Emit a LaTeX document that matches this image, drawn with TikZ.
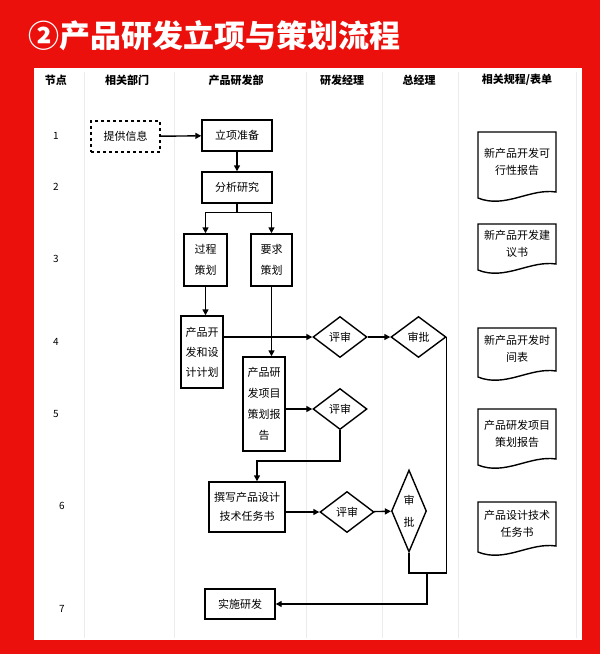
\documentclass[tikz,border=0pt]{standalone}
\usepackage{fontspec}
\setmainfont{Noto Sans CJK SC}
\usetikzlibrary{shapes.geometric,arrows.meta}
\definecolor{bgred}{RGB}{236,16,12}
\begin{document}
\begin{tikzpicture}[x=1pt,y=-1pt,
  box/.style={draw,line width=1.4pt,align=center,font=\fontsize{11}{16}\selectfont,inner sep=0pt},
  dia/.style={diamond,draw,line width=1.4pt,align=center,font=\fontsize{11}{13}\selectfont,inner sep=0pt,aspect=1.35},
  arr/.style={line width=1.4pt,-{Triangle[length=6pt,width=6pt]}},
  ln/.style={line width=1.4pt},
  hdr/.style={font=\bfseries\fontsize{11}{12}\selectfont},
  num/.style={font=\fontsize{10}{11}\selectfont},
  doc/.style={font=\fontsize{11}{17}\selectfont,align=center}]
\useasboundingbox (0,0) rectangle (600,654);
\fill[bgred] (0,0) rectangle (600,654);
\fill[white] (34,68) rectangle (582,640);
\node[anchor=west,text=white,font=\bfseries\fontsize{31}{34}\selectfont,inner sep=0pt] (title) at (28,36) {②产品研发立项与策划流程};
\foreach \x in {84,174,306,382,458,576} \draw[gray!15,line width=0.8pt] (\x,72) -- (\x,638);
\node[hdr] (h1) at (56,80) {节点};
\node[hdr] (h2) at (127,80) {相关部门};
\node[hdr] (h3) at (236,80) {产品研发部};
\node[hdr] (h4) at (342,80) {研发经理};
\node[hdr] (h5) at (419,80) {总经理};
\node[hdr] (h6) at (517,80) {相关规程/表单};
\node[num] (n1) at (56,136) {1};
\node[num] (n2) at (56,187) {2};
\node[num] (n3) at (56,259) {3};
\node[num] (n4) at (56,342) {4};
\node[num] (n5) at (56,414) {5};
\node[num] (n6) at (62,506) {6};
\node[num] (n7) at (62,609) {7};
% nodes
\node[box,dashed,minimum width=69pt,minimum height=31pt] (info) at (125.5,136.5) {提供信息};
\node[box,minimum width=70pt,minimum height=31pt] (prep) at (237,135.5) {立项准备};
\node[box,minimum width=70pt,minimum height=31pt] (anal) at (237,187.5) {分析研究};
\node[box,minimum width=43pt,minimum height=52pt,font=\fontsize{11}{21}\selectfont] (proc) at (205.5,260) {过程\\策划};
\node[box,minimum width=41pt,minimum height=52pt,font=\fontsize{11}{21}\selectfont] (req) at (271.5,260) {要求\\策划};
\node[box,minimum width=42pt,minimum height=72pt,font=\fontsize{11}{20}\selectfont] (plan) at (202,352) {产品开\\发和设\\计计划};
\node[box,minimum width=42pt,minimum height=94pt,font=\fontsize{11}{21}\selectfont] (rep) at (264,404) {产品研\\发项目\\策划报\\告};
\node[box,minimum width=76pt,minimum height=50pt,font=\fontsize{11}{19}\selectfont] (task) at (247,507) {撰写产品设计\\技术任务书};
\node[box,minimum width=70pt,minimum height=30pt] (impl) at (240,604) {实施研发};
\node[dia,minimum width=54pt,minimum height=41pt] (rv1) at (340,337) {评审};
\node[dia,minimum width=55pt,minimum height=41pt] (ap1) at (418.5,337) {审批};
\node[dia,minimum width=54pt,minimum height=41pt] (rv2) at (340,409) {评审};
\node[dia,minimum width=54pt,minimum height=41pt] (rv3) at (347,512) {评审};
\node[diamond,draw,line width=1.4pt,minimum width=35pt,minimum height=82pt,inner sep=0pt,aspect=0.43,align=center,font=\fontsize{11}{22}\selectfont] (ap2) at (409,511) {审\\批};
% connectors
\draw[arr] (info) -- (prep);
\draw[arr] (prep) -- (anal);
\draw[ln] (anal.south) -- ++(0,9) coordinate (split);
\draw[arr] (split) -| (proc.north);
\draw[arr] (split) -| (req.north);
\draw[arr] (proc) -- (plan.north -| proc);
\draw[arr] (req.south) -- (rep.north -| req.south);
\draw[arr] (plan.east |- rv1) -- (rv1.west);
\draw[arr] (rv1) -- (ap1);
\draw[arr] (rep.east |- rv2) -- (rv2.west);
\draw[arr] (rv2.south) |- (257,461) -- (task.north -| 257,0);
\draw[arr] (task.east |- rv3) -- (rv3.west);
\draw[arr] (rv3) -- (ap2);
\coordinate (m1) at (ap1.east |- 0,573);
\coordinate (m2) at (ap2.south |- 0,573);
\draw[ln] (ap1.east) -- (m1) -- (m2) -- (ap2.south);
\coordinate (m3) at (427,573);
\draw[arr] (m3) |- (impl.east);
% documents
\foreach \t/\b/\txt/\nm in {132/203/{新产品开发可\\行性报告}/d1, 224/275/{新产品开发建\\议书}/d2, 328/382/{新产品开发时\\间表}/d3, 409/470/{产品研发项目\\策划报告}/d4, 502/557/{产品设计技术\\任务书}/d5}{
  \draw[line width=1.4pt] (478,\t) -- (556,\t) -- (556,\b-11) .. controls (530,\b-15) and (505,\b+6) .. (478,\b-5) -- cycle;
  \node[doc] (\nm) at (517,{(\t+\b)/2-6}) {\txt};
}
\end{tikzpicture}
\end{document}
